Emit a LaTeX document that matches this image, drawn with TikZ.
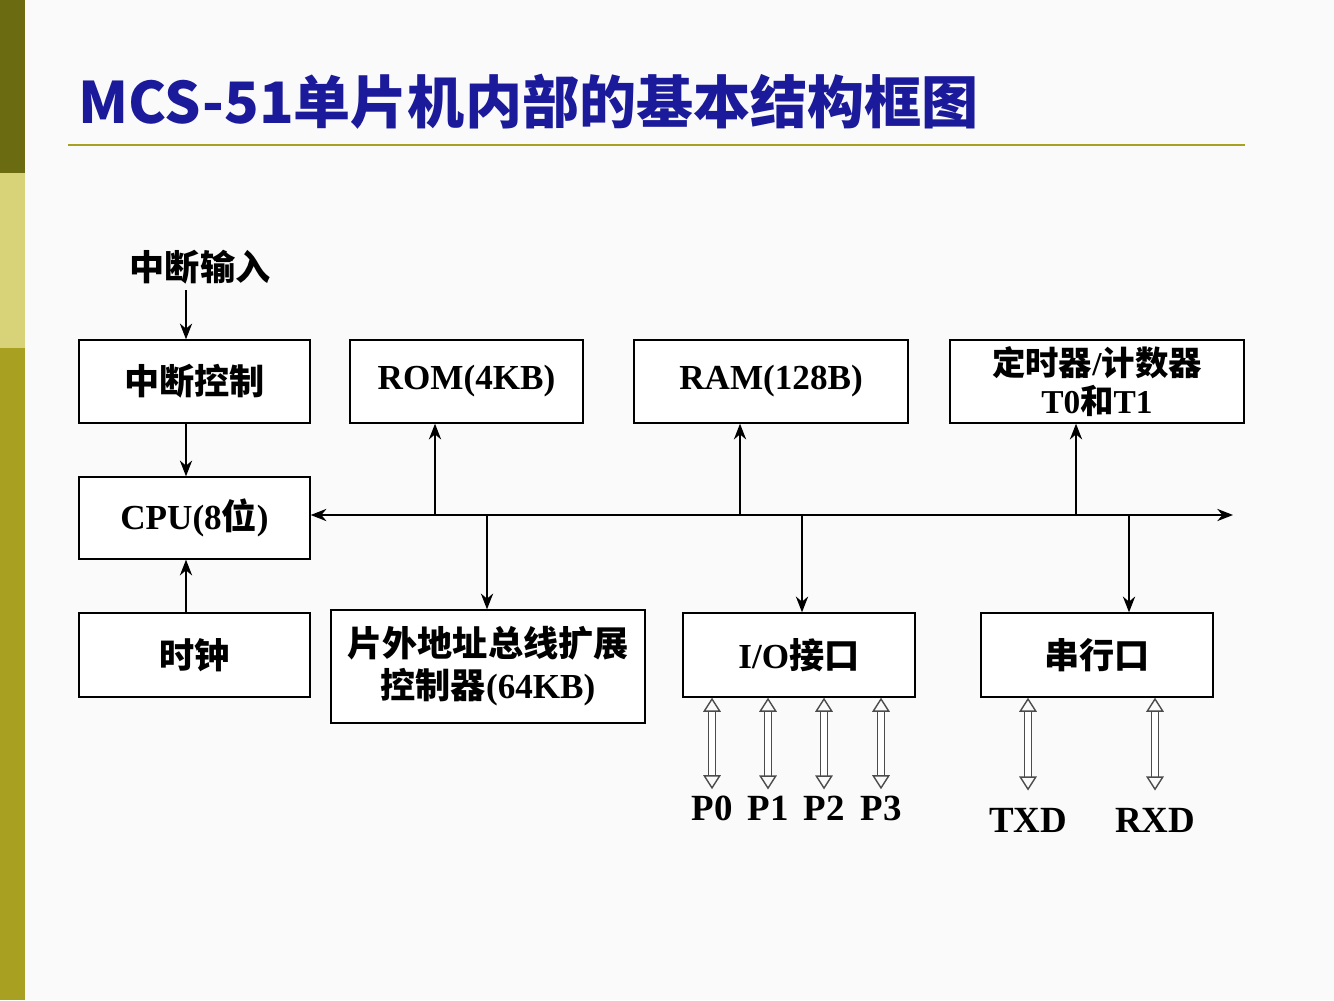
\documentclass[tikz,border=0pt]{standalone}
\usepackage{fontspec}
\setmainfont{Liberation Serif}
\newfontfamily\cjk{Noto Sans CJK SC Bold}
\newfontfamily\titlefont{Noto Sans CJK SC Black}
\usetikzlibrary{arrows.meta,positioning}
\definecolor{titleblue}{HTML}{1A1A9A}
\definecolor{olivedark}{HTML}{6B6B12}
\definecolor{olivelight}{HTML}{D8D278}
\definecolor{olivemid}{HTML}{A8A020}
\begin{document}
\begin{tikzpicture}[x=0.02cm, y=-0.02cm,
    blk/.style={rectangle, draw, thick, fill=white, inner sep=0pt, font=\fontsize{20}{24}\selectfont\bfseries},
    lbl/.style={inner sep=0pt, font=\fontsize{20}{24}\selectfont\bfseries},
    arr/.style={-{Stealth[length=9pt,width=7pt]}, thick},
    port/.style={{Triangle[open,length=8pt,width=10pt]}-{Triangle[open,length=8pt,width=10pt]}, double=white, double distance=3pt, thick, draw=gray!60!black}]
    % background and side bar
    \fill[white!96!gray] (0,0) rectangle (1334,1000);
    \fill[olivedark] (0,0) rectangle (25,173);
    \fill[olivelight] (0,173) rectangle (25,348);
    \fill[olivemid] (0,348) rectangle (25,1000);
    % title
    \node[anchor=west, inner sep=0pt, text=titleblue, font=\titlefont\fontsize{32.5}{38}\selectfont] (title) at (78,102) {MCS-51单片机内部的基本结构框图};
    \draw[olivemid, line width=1.5pt] (68,145) -- (1245,145);

    % blocks
    \node[blk, minimum width=4.62cm, minimum height=1.66cm] (intctl) at (194.5,381.5) {\cjk 中断控制};
    \node[blk, minimum width=4.66cm, minimum height=1.66cm] (rom) at (466.5,381.5) {ROM(4KB)};
    \node[blk, minimum width=5.48cm, minimum height=1.66cm] (ram) at (771,381.5) {RAM(128B)};
    \node[blk, minimum width=5.88cm, minimum height=1.66cm, align=center, font=\fontsize{19}{22}\selectfont\bfseries] (timer) at (1097,381.5) {{\cjk 定时器}/{\cjk 计数器}\\T0{\cjk 和}T1};
    \node[blk, minimum width=4.62cm, minimum height=1.64cm] (cpu) at (194.5,518) {CPU(8{\cjk 位})};
    \node[blk, minimum width=4.62cm, minimum height=1.68cm] (clk) at (194.5,655) {\cjk 时钟};
    \node[blk, minimum width=6.28cm, minimum height=2.26cm, align=center] (ext) at (488,666.5) {{\cjk 片外地址总线扩展}\\{\cjk 控制器}(64KB)};
    \node[blk, minimum width=4.64cm, minimum height=1.68cm] (io) at (799,655) {I/O{\cjk 接口}};
    \node[blk, minimum width=4.64cm, minimum height=1.68cm] (sio) at (1097,655) {\cjk 串行口};
    \node[lbl] (intin) at (200,267) {\cjk 中断输入};

    % bus taps
    \coordinate (busend) at (1233,515);
    \coordinate (tapL) at (186,290);
    \coordinate (tapR) at (435,515);
    \coordinate (tapM) at (740,515);
    \coordinate (tapT) at (1076,515);
    \coordinate (tapE) at (487,515);
    \coordinate (tapI) at (802,515);
    \coordinate (tapS) at (1129,515);
    \draw[{Stealth[length=9pt,width=7pt]}-{Stealth[length=9pt,width=7pt]}, thick] (cpu.east |- busend) -- (busend);
    \draw[arr] (tapL) -- (intctl.north -| tapL);
    \draw[arr] (intctl.south -| tapL) -- (cpu.north -| tapL);
    \draw[arr] (clk.north -| tapL) -- (cpu.south -| tapL);
    \draw[arr] (tapR) -- (rom.south -| tapR);
    \draw[arr] (tapM) -- (ram.south -| tapM);
    \draw[arr] (tapT) -- (timer.south -| tapT);
    \draw[arr] (tapE) -- (ext.north -| tapE);
    \draw[arr] (tapI) -- (io.north -| tapI);
    \draw[arr] (tapS) -- (sio.north -| tapS);

    % ports
    \foreach \x/\n in {712/P0, 768/P1, 824/P2, 881/P3} {
        \node[lbl, font=\fontsize{21}{24}\selectfont\bfseries] (\n) at (\x,808) {\n};
        \draw[port] (io.south -| \n) -- ([yshift=0.12cm]\n.north);
    }
    \foreach \x/\n in {1028/TXD, 1155/RXD} {
        \node[lbl, font=\fontsize{21}{24}\selectfont\bfseries] (\n) at (\x,820) {\n};
        \draw[port] (sio.south -| \n) -- ([yshift=0.34cm]\n.north);
    }
\end{tikzpicture}
\end{document}
